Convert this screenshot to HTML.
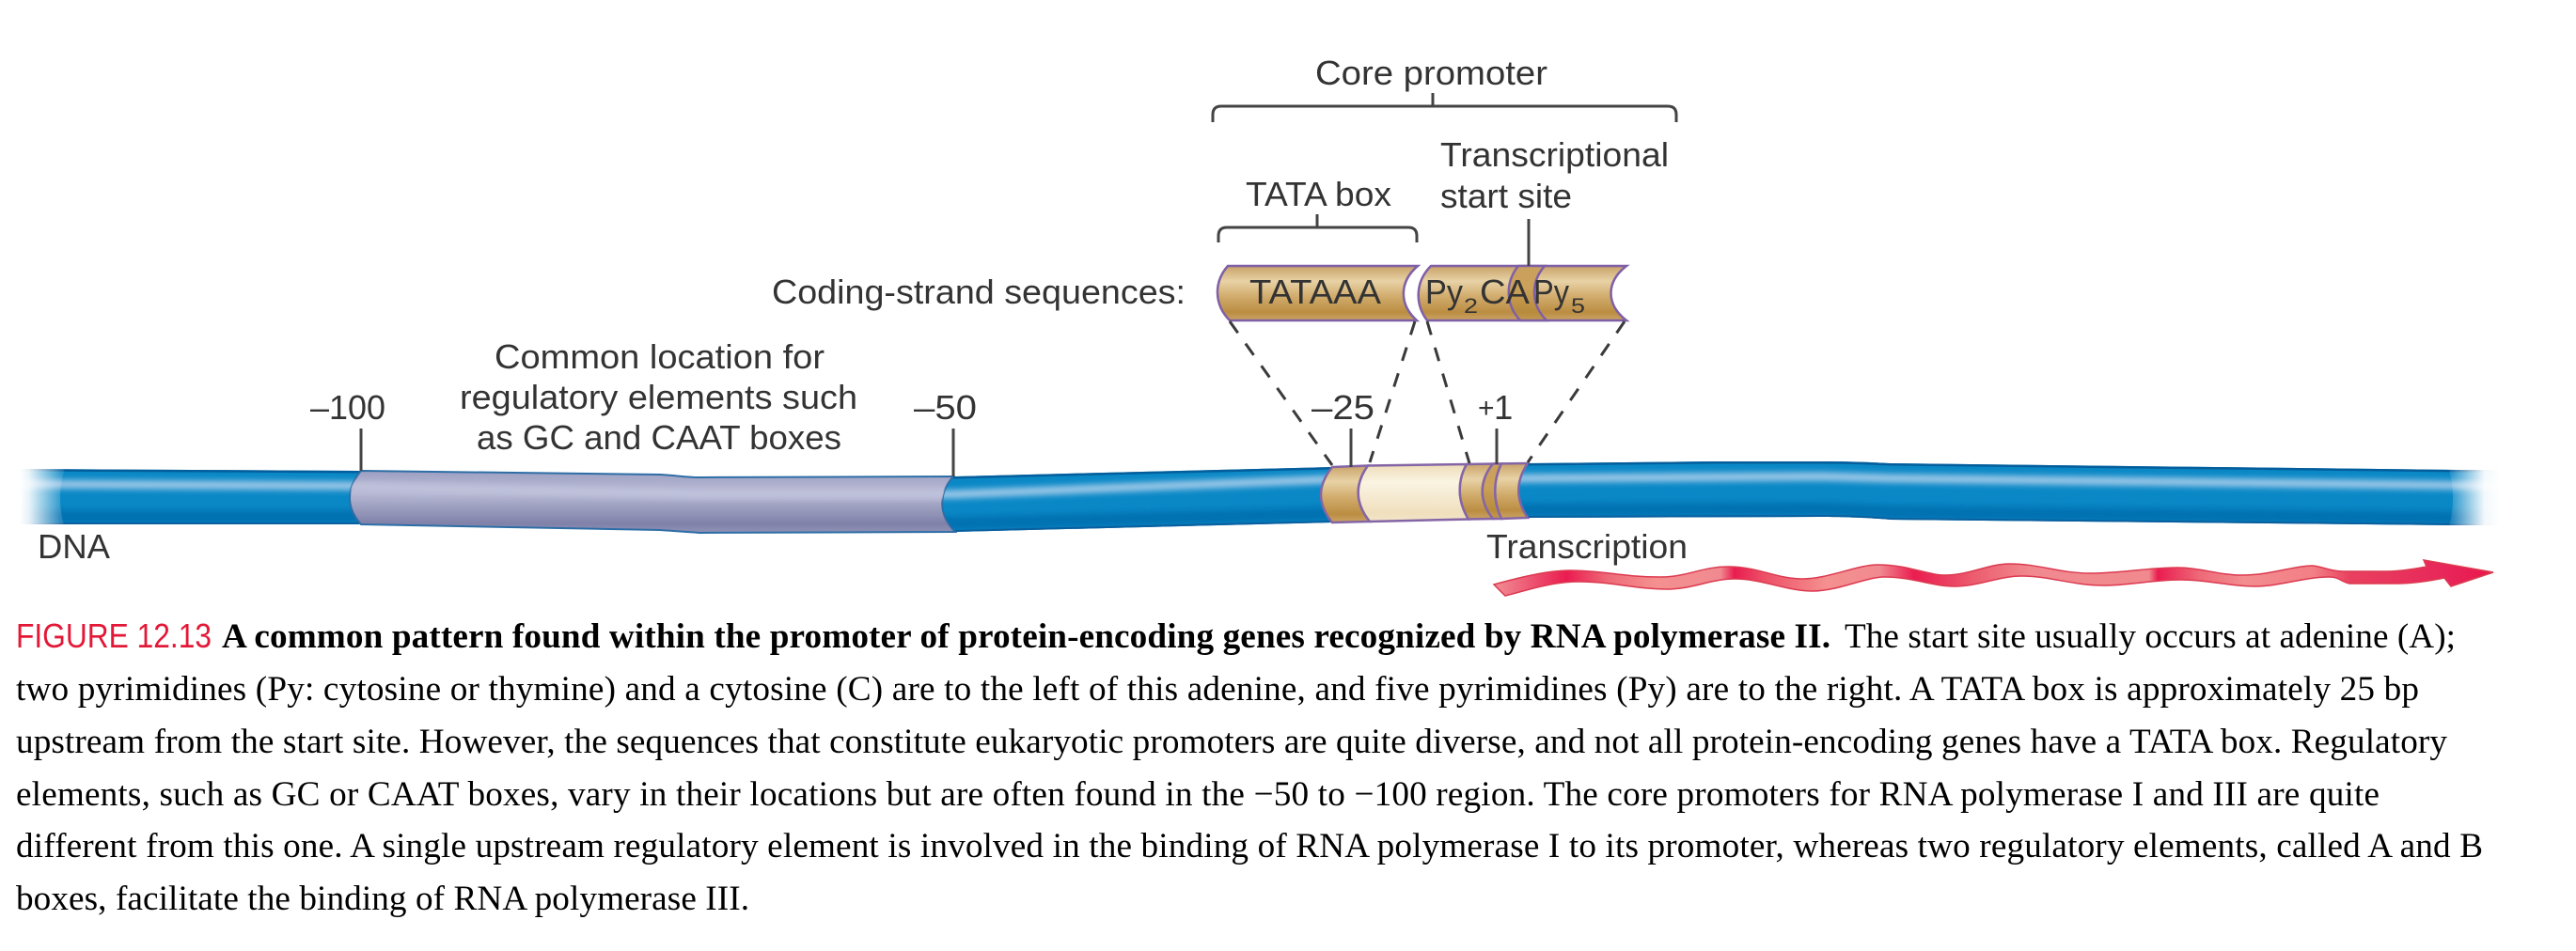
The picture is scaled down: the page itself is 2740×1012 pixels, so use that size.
<!DOCTYPE html>
<html>
<head>
<meta charset="utf-8">
<style>
html,body{margin:0;padding:0;background:#fff;width:2740px;height:1012px;overflow:hidden}
svg{display:block}
.l{font-family:"Liberation Sans",sans-serif;font-size:36.5px;fill:#333}
.c{font-family:"Liberation Serif",serif;font-size:37.2px;fill:#000}
</style>
</head>
<body>
<svg width="2740" height="1012" viewBox="0 0 2740 1012" xmlns="http://www.w3.org/2000/svg">
<defs>
<linearGradient id="gold" x1="0" y1="0" x2="0" y2="1">
<stop offset="0" stop-color="#c8a268"/><stop offset=".28" stop-color="#e8d2a6"/><stop offset=".55" stop-color="#d2ad6e"/><stop offset=".85" stop-color="#bb8d42"/><stop offset="1" stop-color="#cba466"/>
</linearGradient>
<linearGradient id="agold" x1="0" y1="0" x2="0" y2="1">
<stop offset="0" stop-color="#c9a05e"/><stop offset=".4" stop-color="#cca15a"/><stop offset=".85" stop-color="#b68b3c"/><stop offset="1" stop-color="#c49a50"/>
</linearGradient>
<linearGradient id="cream" x1="0" y1="0" x2="0" y2="1">
<stop offset="0" stop-color="#eedcb8"/><stop offset=".32" stop-color="#faf4e3"/><stop offset=".85" stop-color="#f0dfbd"/><stop offset="1" stop-color="#f3e5c8"/>
</linearGradient>
<linearGradient id="pur" x1="0" y1="0" x2="0" y2="1">
<stop offset="0" stop-color="#9d9fc2"/><stop offset=".35" stop-color="#b8bad5"/><stop offset=".85" stop-color="#7f81a9"/><stop offset="1" stop-color="#8f91b5"/>
</linearGradient>
<linearGradient id="fadeL" gradientUnits="userSpaceOnUse" x1="21" y1="0" x2="72" y2="0">
<stop offset="0" stop-color="#fff"/><stop offset=".2" stop-color="#fff" stop-opacity=".9"/><stop offset="1" stop-color="#fff" stop-opacity="0"/>
</linearGradient>
<linearGradient id="fadeR" gradientUnits="userSpaceOnUse" x1="2602" y1="0" x2="2660" y2="0">
<stop offset="0" stop-color="#fff" stop-opacity="0"/><stop offset=".7" stop-color="#fff" stop-opacity=".95"/><stop offset="1" stop-color="#fff"/>
</linearGradient>
<linearGradient id="rna" gradientUnits="userSpaceOnUse" x1="1590" y1="0" x2="2652" y2="0">
<stop offset="0" stop-color="#f08e94"/><stop offset=".072" stop-color="#ea1c50"/><stop offset=".113" stop-color="#ee6a78"/><stop offset=".16" stop-color="#f4908f"/><stop offset=".226" stop-color="#f08a90"/><stop offset=".24" stop-color="#ea1c50"/><stop offset=".27" stop-color="#ec5067"/><stop offset=".332" stop-color="#f4908f"/><stop offset=".385" stop-color="#f18a90"/><stop offset=".42" stop-color="#ea1c50"/><stop offset=".48" stop-color="#ec5d6f"/><stop offset=".537" stop-color="#f18a90"/><stop offset=".655" stop-color="#f08a8e"/><stop offset=".664" stop-color="#ea1c50"/><stop offset=".706" stop-color="#ee6a78"/><stop offset=".75" stop-color="#f28d90"/><stop offset=".82" stop-color="#f27f85"/><stop offset=".857" stop-color="#e9405f"/><stop offset=".95" stop-color="#e8275a"/><stop offset="1" stop-color="#e9164b"/>
</linearGradient>
<filter id="b3" x="-2%" y="-100%" width="104%" height="300%"><feGaussianBlur stdDeviation="3.2"/></filter>
<filter id="b4" x="-2%" y="-100%" width="104%" height="300%"><feGaussianBlur stdDeviation="4"/></filter>
<clipPath id="tube"><path d="M21 499 L384 501 L702 505 C720 506 730 508 744 508 L1014 507 L1417 497 L1625 493 L1823 491 L1936 491 C1970 491 1990 492 2011 493 L2613 500 L2658 500 L2658 559 L2613 559 L2011 553 C1990 551 1960 550 1936 550 L1625 551 L1417 556 L1016 566 L744 567 C725 565.5 715 565 702 564 L384 558 L21 558 Z"/></clipPath>
<clipPath id="purc"><path d="M384 501 L702 505 C720 506 730 508 744 508 L1014 507 C998 525 998 548 1016 566 L744 567 C725 565.5 715 565 702 564 L384 558 C368 540 368 520 384 501 Z"/></clipPath>
</defs>

<!-- tube -->
<path d="M21 499 L384 501 L702 505 C720 506 730 508 744 508 L1014 507 L1417 497 L1625 493 L1823 491 L1936 491 C1970 491 1990 492 2011 493 L2613 500 L2658 500 L2658 559 L2613 559 L2011 553 C1990 551 1960 550 1936 550 L1625 551 L1417 556 L1016 566 L744 567 C725 565.5 715 565 702 564 L384 558 L21 558 Z" fill="#0a88c6"/>
<g clip-path="url(#tube)">
<path d="M0 515 L384 517 L744 525 L1014 526 L1417 510 L1625 509 L1936 507 L2011 509 L2658 517" fill="none" stroke="#9cc8e8" stroke-width="9" filter="url(#b3)"/>
<path d="M0 550 L384 550 L744 558 L1014 557 L1417 547 L1625 543 L1936 542 L2011 545 L2658 552" fill="none" stroke="#0070b0" stroke-width="14" filter="url(#b4)"/>
<path d="M21 499 L384 501 L702 505 C720 506 730 508 744 508 L1014 507 L1417 497 L1625 493 L1823 491 L1936 491 C1970 491 1990 492 2011 493 L2613 500 L2658 500" fill="none" stroke="#055e9c" stroke-width="5"/>
<path d="M2658 559 L2613 559 L2011 553 C1990 551 1960 550 1936 550 L1625 551 L1417 556 L1016 566 L744 567 C725 565.5 715 565 702 564 L384 558 L21 558" fill="none" stroke="#0a5f9e" stroke-width="4"/>
</g>
<!-- tube fades -->
<path d="M10 490 H72 Q56 530 72 570 H10 Z" fill="url(#fadeL)"/>
<path d="M2602 490 H2670 V570 H2602 Q2616 530 2602 490 Z" fill="url(#fadeR)"/>

<!-- purple section -->
<path d="M384 501 L702 505 C720 506 730 508 744 508 L1014 507 C998 525 998 548 1016 566 L744 567 C725 565.5 715 565 702 564 L384 558 C368 540 368 520 384 501 Z" fill="url(#pur)" stroke="#2e6ea6" stroke-width="2"/>
<g clip-path="url(#purc)">
<path d="M360 517 L744 526 L1014 526" fill="none" stroke="#c0c2dc" stroke-width="9" filter="url(#b3)"/>
</g>

<!-- promoter sections -->
<g stroke="#8465a6" stroke-width="2.5">
<path d="M1417 497 L1455 495.5 C1441 515 1441 535 1457 555 L1417 556 C1401 536 1401 517 1417 497 Z" fill="url(#gold)"/>
<path d="M1455 495.5 L1560 494 C1550 512 1550 533 1562 552.5 L1457 555 C1441 535 1441 515 1455 495.5 Z" fill="url(#cream)"/>
<path d="M1560 494 L1588 493.5 C1573 512 1573 533 1588 552 L1562 552.5 C1550 533 1550 512 1560 494 Z" fill="url(#gold)"/>
<path d="M1588 493.5 L1597 493.4 C1588 512 1588 533 1597 552 L1588 552 C1573 533 1573 512 1588 493.5 Z" fill="url(#agold)"/>
<path d="M1597 493.4 L1625 493 C1612 512 1612 532 1625 551 L1597 552 C1588 533 1588 512 1597 493.4 Z" fill="url(#gold)"/>
</g>

<!-- pills -->
<g stroke="#7f5fa6" stroke-width="2.5">
<path d="M1306 283 H1508 C1488 300 1488 324 1507 341 H1308 C1291 324 1291 300 1306 283 Z" fill="url(#gold)"/>
<path d="M1522 283 H1730 C1708 300 1708 324 1730 341 H1518 C1505 324 1505 300 1522 283 Z" fill="url(#gold)"/>
<path d="M1615 283 H1643 C1628 300 1628 324 1645 341 H1617 C1601 324 1601 300 1615 283 Z" fill="url(#agold)"/>
</g>

<!-- brackets and ticks -->
<g fill="none" stroke="#444" stroke-width="3">
<path d="M1290 130 V122 Q1290 113 1299 113 H1774 Q1783 113 1783 122 V130"/>
<path d="M1524 99 V113"/>
<path d="M1296 258 V251 Q1296 242 1305 242 H1498 Q1507 242 1507 251 V258"/>
<path d="M1401 228 V242"/>
<path d="M1626 233 V283"/>
<path d="M384 456 V501"/>
<path d="M1014 456 V507"/>
<path d="M1437 456 V497"/>
<path d="M1592 456 V494"/>
</g>

<!-- dashed connectors -->
<g fill="none" stroke="#3a3a3a" stroke-width="3" stroke-dasharray="15 14">
<path d="M1308 342 L1417 495"/>
<path d="M1505 342 L1457 492"/>
<path d="M1518 342 L1563 493"/>
<path d="M1728 342 L1625 492"/>
</g>

<!-- RNA arrow -->
<path d="M1589 622 C1625 612 1650 607 1670 607 C1705 607 1725 614 1766 614 C1795 614 1810 603 1838 603 C1870 603 1890 616 1917 616 C1945 616 1975 601 1997 601 C2030 601 2050 612 2069 612 C2095 612 2115 600 2137 600 C2170 600 2190 610 2223 610 C2255 610 2285 604 2316 604 C2340 604 2360 612 2385 612 C2415 612 2440 602 2459 602 C2468 602 2478 608 2492 608 L2540 608 C2552 608 2565 606 2581 603 L2578 596 L2652 609 L2607 624 L2600 615 C2575 620 2560 621 2550 621 L2499 621 C2490 619 2488 614 2478 614 C2450 614 2425 624 2399 624 C2370 624 2350 617 2320 617 C2290 617 2265 623 2237 623 C2205 623 2180 613 2151 613 C2125 613 2105 624 2079 624 C2055 624 2035 614 2004 614 C1985 614 1955 629 1928 629 C1900 629 1875 616 1845 616 C1820 616 1800 627 1773 627 C1740 627 1715 619 1680 619 C1650 619 1625 628 1601 634 Z" fill="url(#rna)" stroke="#dc3a50" stroke-width="1.5"/>

<!-- labels -->
<text class="l" x="1399" y="90" textLength="247" lengthAdjust="spacingAndGlyphs">Core promoter</text>
<text class="l" x="1532" y="177" textLength="243" lengthAdjust="spacingAndGlyphs">Transcriptional</text>
<text class="l" x="1532" y="221" textLength="140" lengthAdjust="spacingAndGlyphs">start site</text>
<text class="l" x="1325" y="219" textLength="155" lengthAdjust="spacingAndGlyphs">TATA box</text>
<text class="l" x="821" y="323" textLength="440" lengthAdjust="spacingAndGlyphs">Coding-strand sequences:</text>
<text class="l" x="1329" y="323" textLength="140" lengthAdjust="spacingAndGlyphs">TATAAA</text>
<text class="l" x="1516" y="323" textLength="40" lengthAdjust="spacingAndGlyphs">Py</text>
<text class="l" x="1557" y="333" style="font-size:22px" textLength="15" lengthAdjust="spacingAndGlyphs">2</text>
<text class="l" x="1574" y="323" textLength="53" lengthAdjust="spacingAndGlyphs">CA</text>
<text class="l" x="1631" y="323" textLength="38" lengthAdjust="spacingAndGlyphs">Py</text>
<text class="l" x="1671" y="333" style="font-size:22px" textLength="15" lengthAdjust="spacingAndGlyphs">5</text>
<text class="l" x="526" y="392" textLength="351" lengthAdjust="spacingAndGlyphs">Common location for</text>
<text class="l" x="489" y="435" textLength="423" lengthAdjust="spacingAndGlyphs">regulatory elements such</text>
<text class="l" x="507" y="478" textLength="388" lengthAdjust="spacingAndGlyphs">as GC and CAAT boxes</text>
<text class="l" x="330" y="446" textLength="80" lengthAdjust="spacingAndGlyphs">–100</text>
<text class="l" x="972" y="446" textLength="67" lengthAdjust="spacingAndGlyphs">–50</text>
<text class="l" x="1395" y="446" textLength="67" lengthAdjust="spacingAndGlyphs">–25</text>
<text class="l" x="1572" y="444" style="font-size:30px">+</text>
<text class="l" x="1589" y="446">1</text>
<text class="l" x="40" y="594" textLength="77" lengthAdjust="spacingAndGlyphs">DNA</text>
<text class="l" x="1581" y="594" textLength="214" lengthAdjust="spacingAndGlyphs">Transcription</text>

<!-- caption -->
<text x="17" y="689" font-family="'Liberation Sans',sans-serif" font-size="36" fill="#e31837" textLength="208" lengthAdjust="spacingAndGlyphs">FIGURE 12.13</text>
<text class="c" x="236" y="689" font-weight="bold" textLength="1711">A common pattern found within the promoter of protein-encoding genes recognized by RNA polymerase II.</text>
<text class="c" x="1962" y="689" textLength="650">The start site usually occurs at adenine (A);</text>
<text class="c" x="17" y="745" textLength="2556">two pyrimidines (Py: cytosine or thymine) and a cytosine (C) are to the left of this adenine, and five pyrimidines (Py) are to the right. A TATA box is approximately 25 bp</text>
<text class="c" x="17" y="801" textLength="2586">upstream from the start site. However, the sequences that constitute eukaryotic promoters are quite diverse, and not all protein-encoding genes have a TATA box. Regulatory</text>
<text class="c" x="17" y="857" textLength="2514">elements, such as GC or CAAT boxes, vary in their locations but are often found in the −50 to −100 region. The core promoters for RNA polymerase I and III are quite</text>
<text class="c" x="17" y="912" textLength="2624">different from this one. A single upstream regulatory element is involved in the binding of RNA polymerase I to its promoter, whereas two regulatory elements, called A and B</text>
<text class="c" x="17" y="968" textLength="780">boxes, facilitate the binding of RNA polymerase III.</text>
</svg>
</body>
</html>
